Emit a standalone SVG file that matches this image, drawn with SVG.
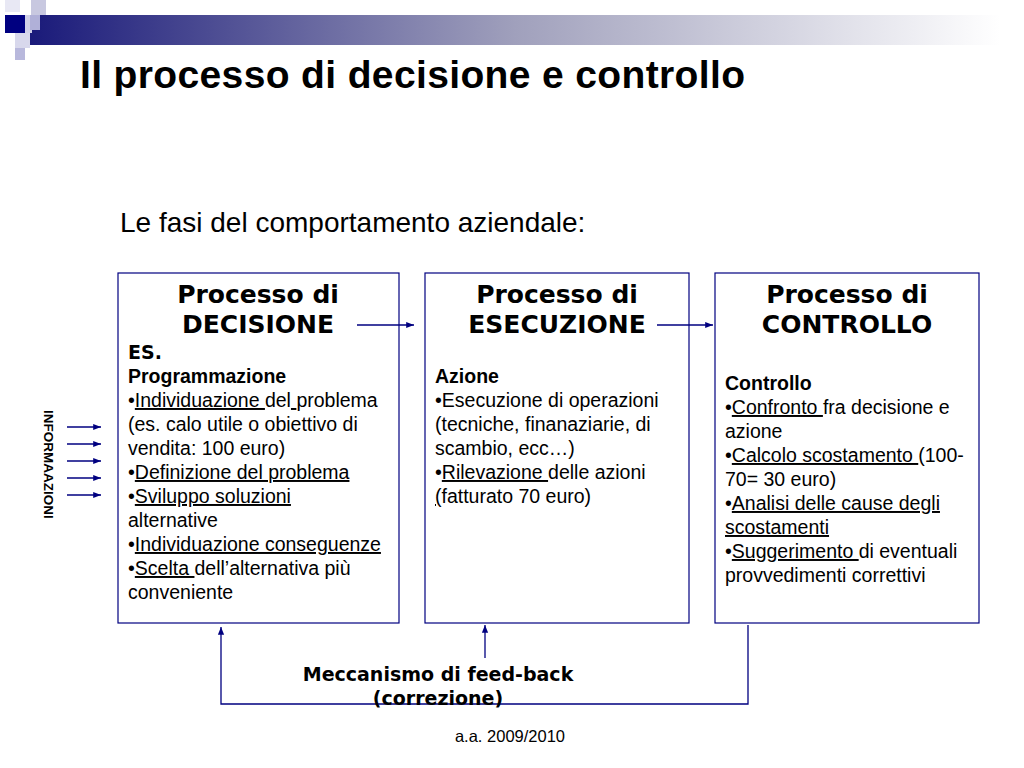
<svg xmlns="http://www.w3.org/2000/svg" width="1024" height="768" viewBox="0 0 1024 768">
<defs>
<linearGradient id="g" x1="0" x2="1" y1="0" y2="0">
<stop offset="0" stop-color="#1a1a7a"/><stop offset="0.5" stop-color="#a0a0bc"/><stop offset="1" stop-color="#ffffff"/>
</linearGradient>
<marker id="a" viewBox="0 0 10 10" refX="10" refY="5" markerWidth="6" markerHeight="6" orient="auto"><path d="M0,1 L10,5 L0,9 z" fill="#000080"/></marker>
</defs>
<style>
.box{fill:#fff;stroke:#000080;stroke-width:1.2}
.h{font-family:"DejaVu Sans","Liberation Sans",sans-serif;font-weight:bold;font-size:25px;text-anchor:middle}
.t{font-family:"Liberation Sans",Arial,sans-serif;font-size:19.5px}
.b{font-weight:bold}
.c{stroke:#000080;stroke-width:1.3;fill:none}
</style>
<rect width="1024" height="768" fill="#fff"/>
<g id="header">
<rect x="30" y="15" width="970" height="30" fill="url(#g)"/>
<rect x="5" y="15" width="20" height="18" fill="#000080"/>
<rect x="31" y="0" width="15" height="15" fill="#c8c8e0"/>
<rect x="25" y="15" width="7" height="18" fill="#d0d0e8"/>
<rect x="30" y="15" width="10" height="15" fill="#b0b0d8"/>
<rect x="15" y="33" width="15" height="15" fill="#d8d8ec"/>
<rect x="15" y="48" width="10" height="12" fill="#b8b8dc"/>
<rect x="5" y="0" width="15" height="12" fill="#e8e8f4"/>
</g>
<text x="80" y="88" font-family="Liberation Sans,Arial,sans-serif" font-weight="bold" font-size="39" textLength="665">Il processo di decisione e controllo</text>
<text x="120" y="232" font-family="Liberation Sans,Arial,sans-serif" font-size="28">Le fasi del comportamento aziendale:</text>
<g id="decisione">
<rect class="box" x="118" y="273" width="281" height="350"/>
<text class="h" x="258" y="303">Processo di</text>
<text class="h" x="258" y="333">DECISIONE</text>
<text x="128" y="359" font-family="DejaVu Sans,sans-serif" font-weight="bold" font-size="19">ES.</text>
<text class="t b" x="128" y="383" font-size="17.5">Programmazione</text>
<text class="t" x="128" y="407">•<tspan text-decoration="underline">Individuazione </tspan>del<tspan text-decoration="underline"> </tspan>problema</text>
<text class="t" x="128" y="431">(es. calo utile o obiettivo di</text>
<text class="t" x="128" y="455">vendita: 100 euro)</text>
<text class="t" x="128" y="479">•<tspan text-decoration="underline">Definizione del problema</tspan></text>
<text class="t" x="128" y="503">•<tspan text-decoration="underline">Sviluppo soluzioni</tspan></text>
<text class="t" x="128" y="527">alternative</text>
<text class="t" x="128" y="551">•<tspan text-decoration="underline">Individuazione conseguenze</tspan></text>
<text class="t" x="128" y="575">•<tspan text-decoration="underline">Scelta </tspan>dell’alternativa più</text>
<text class="t" x="128" y="599">conveniente</text>
</g>
<g id="esecuzione">
<rect class="box" x="425" y="273" width="264" height="350"/>
<text class="h" x="557" y="303">Processo di</text>
<text class="h" x="557" y="333">ESECUZIONE</text>
<text class="t b" x="435" y="383" font-size="17.5">Azione</text>
<text class="t" x="435" y="407">•Esecuzione di operazioni</text>
<text class="t" x="435" y="431">(tecniche, finanaziarie, di</text>
<text class="t" x="435" y="455">scambio, ecc…)</text>
<text class="t" x="435" y="479">•<tspan text-decoration="underline">Rilevazione </tspan>delle azioni</text>
<text class="t" x="435" y="503"><tspan text-decoration="underline">(</tspan>fatturato 70 euro)</text>
</g>
<g id="controllo">
<rect class="box" x="715" y="273" width="264" height="350"/>
<text class="h" x="847" y="303">Processo di</text>
<text class="h" x="847" y="333">CONTROLLO</text>
<text class="t b" x="725" y="390" font-size="17.5">Controllo</text>
<text class="t" x="725" y="414">•<tspan text-decoration="underline">Confronto </tspan>fra decisione e</text>
<text class="t" x="725" y="438">azione</text>
<text class="t" x="725" y="462">•<tspan text-decoration="underline">Calcolo scostamento </tspan>(100-</text>
<text class="t" x="725" y="486">70= 30  euro)</text>
<text class="t" x="725" y="510">•<tspan text-decoration="underline">Analisi delle cause degli</tspan></text>
<text class="t" x="725" y="534"><tspan text-decoration="underline">scostamenti</tspan></text>
<text class="t" x="725" y="558">•<tspan text-decoration="underline">Suggerimento </tspan>di eventuali</text>
<text class="t" x="725" y="582">provvedimenti correttivi</text>
</g>
<text x="44" y="410" transform="rotate(90 44 410)" font-family="Liberation Sans,Arial,sans-serif" font-weight="bold" font-size="13.5">INFORMAAZIONI</text>
<g id="connectors">
<line class="c" x1="357" y1="325" x2="414" y2="325" marker-end="url(#a)"/>
<line class="c" x1="657" y1="325" x2="713" y2="325" marker-end="url(#a)"/>
<line class="c" x1="67" y1="427" x2="101" y2="427" marker-end="url(#a)"/>
<line class="c" x1="67" y1="444" x2="101" y2="444" marker-end="url(#a)"/>
<line class="c" x1="67" y1="461" x2="101" y2="461" marker-end="url(#a)"/>
<line class="c" x1="67" y1="478" x2="101" y2="478" marker-end="url(#a)"/>
<line class="c" x1="67" y1="495" x2="101" y2="495" marker-end="url(#a)"/>
<polyline class="c" points="748,625 748,704 221,704 221,627" marker-end="url(#a)"/>
<line class="c" x1="485" y1="658" x2="485" y2="625" marker-end="url(#a)"/>
</g>
<text x="438" y="681" text-anchor="middle" font-family="DejaVu Sans,sans-serif" font-weight="bold" font-size="19">Meccanismo di feed-back</text>
<text x="438" y="705" text-anchor="middle" font-family="DejaVu Sans,sans-serif" font-weight="bold" font-size="19">(correzione)</text>
<text x="510" y="742" text-anchor="middle" font-family="Liberation Sans,Arial,sans-serif" font-size="16.5">a.a. 2009/2010</text>
</svg>
